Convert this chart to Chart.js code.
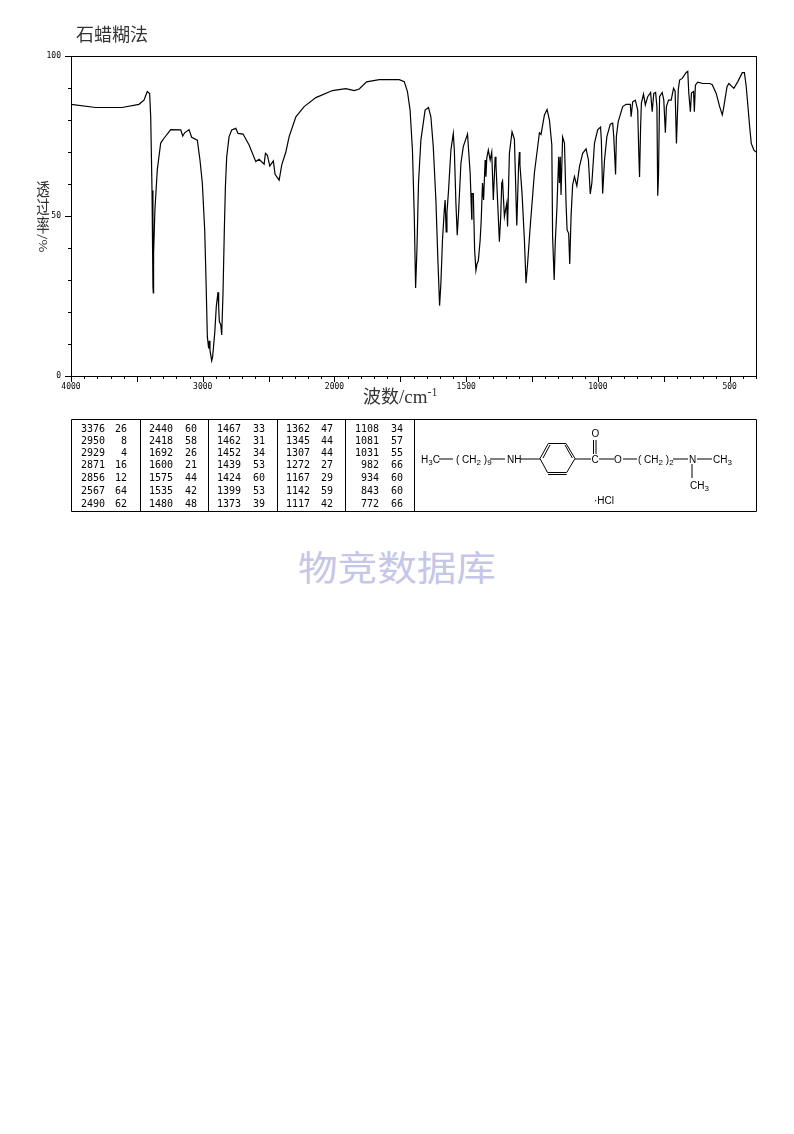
<!DOCTYPE html>
<html>
<head>
<meta charset="utf-8">
<script src="https://cdn.jsdelivr.net/npm/chart.js@4"></script>
<style>
  body { margin: 0; background: #fff; }
  #page { position: relative; width: 794px; height: 1134px; overflow: hidden; }
  #spectrum { position: absolute; left: 0; top: 0; }
  #tableSvg { position: absolute; left: 0; top: 0; }
  .cjk { position: absolute; font-family: "Noto Sans CJK SC", sans-serif; color: #333; white-space: nowrap; }
  #title { left: 76px; top: 20px; font-size: 18px; line-height: 26px; }
  #yTitle { left: 32px; top: 180px; font-size: 18px; line-height: 22px; writing-mode: vertical-rl; transform: scaleX(0.75); }
  #yTitle span { font-size: 14px; }
  #xTitle { left: 363px; top: 383px; font-size: 18px; line-height: 24px; }
  #xTitle .latin { font-family: "Liberation Serif", serif; font-size: 19px; }
  #xTitle sup { font-family: "Liberation Serif", serif; font-size: 12px; line-height: 0; }
  #watermark { left: 298px; top: 539.5px; font-size: 39.6px; line-height: 52px; color: #c6c6e8; transform: scaleY(0.9); }
</style>
</head>
<body>
<div id="page">
  <canvas id="spectrum" width="794" height="410"></canvas>
  <div id="title" class="cjk">石蜡糊法</div>
  <div id="yTitle" class="cjk">透过率<span>/%</span></div>
  <div id="xTitle" class="cjk">波数<span class="latin">/cm</span><sup>-1</sup></div>
  <svg id="tableSvg" width="794" height="530"></svg>
  <div id="watermark" class="cjk">物竞数据库</div>
</div>
<script>
// spectrum
const wavenumbers = [
  4000, 3813, 3613, 3484, 3446, 3421, 3403, 3395, 3385, 3378, 3375, 3373, 3363, 3345, 3319, 3294,
  3243, 3167, 3152, 3137, 3104, 3084, 3041, 3021, 3003, 2985, 2975, 2965, 2955, 2950, 2945, 2932,
  2925, 2909, 2897, 2884, 2879, 2874, 2863, 2856, 2846, 2836, 2828, 2818, 2800, 2780, 2749, 2732,
  2694, 2648, 2597, 2572, 2534, 2524, 2509, 2491, 2464, 2451, 2420, 2400, 2369, 2344, 2293, 2230,
  2141, 2015, 1957, 1925, 1906, 1878, 1830, 1754, 1735, 1723, 1713, 1704, 1697, 1692, 1687, 1681,
  1672, 1656, 1643, 1634, 1625, 1615, 1607, 1601, 1596, 1590, 1583, 1580, 1576, 1573, 1567, 1558,
  1549, 1545, 1539, 1534, 1529, 1520, 1511, 1495, 1485, 1479, 1478, 1473, 1468, 1463, 1459, 1454,
  1447, 1443, 1438, 1434, 1428, 1425, 1422, 1416, 1409, 1403, 1397, 1390, 1387, 1381, 1374, 1369,
  1365, 1362, 1355, 1346, 1343, 1336, 1326, 1317, 1308, 1301, 1298, 1296, 1288, 1279, 1273, 1267,
  1257, 1241, 1222, 1216, 1203, 1193, 1184, 1175, 1172, 1166, 1162, 1156, 1149, 1146, 1143, 1140,
  1134, 1127, 1121, 1117, 1111, 1107, 1102, 1096, 1089, 1080, 1070, 1058, 1045, 1036, 1029, 1023,
  1013, 1001, 990, 987, 982, 975, 966, 953, 944, 940, 933, 930, 923, 906, 893, 877,
  874, 868, 858, 849, 845, 842, 838, 835, 827, 820, 811, 800, 794, 788, 781, 776,
  773, 770, 766, 756, 750, 744, 740, 732, 722, 713, 707, 702, 695, 690, 680, 665,
  659, 655, 649, 645, 637, 634, 630, 621, 602, 576, 566, 551, 538, 528, 523, 510,
  503, 484, 469, 452, 444, 437, 424, 418, 408, 400
];
const transmittance = [
  84.9, 83.9, 83.9, 84.9, 86.2, 88.9, 88.3, 81, 58, 27.9, 26, 38.4, 51.9, 64.4, 72.8, 74.3,
  77, 76.9, 75, 76, 77, 74.6, 73.7, 67.5, 60.3, 45.6, 30, 12.3, 8.6, 11, 8, 4.8,
  6, 13.4, 21.7, 26.2, 21.7, 17, 16, 12.8, 26, 45.6, 59, 68.5, 74.8, 76.9, 77.4, 75.8,
  75.6, 72.2, 67, 67.7, 66.2, 69.6, 69, 65.6, 67.2, 63, 61.2, 66, 70, 74.8, 81, 84.2,
  87, 89.2, 89.8, 89.2, 89.7, 91.9, 92.6, 92.6, 92, 88.9, 83.1, 70.6, 49.8, 27.5, 39.4, 60.3,
  73.7, 83.1, 83.9, 81, 71.7, 55, 35.3, 22, 29, 42.5, 52, 55, 45, 51, 58, 70.6,
  75.8, 70.6, 54, 44, 51, 66.5, 71.7, 75.6, 63.5, 49, 57, 57, 39.4, 33, 35, 36,
  42.5, 48.7, 60.3, 55, 67.5, 62.3, 68, 70.6, 67.5, 70, 55, 68.5, 66, 55, 42, 49.8,
  60.3, 61, 49.8, 54, 46.7, 69.6, 76.3, 74, 47, 66, 70, 66, 57, 42.5, 29, 35,
  46.7, 63.5, 76, 75.5, 81.6, 83.3, 80, 72.2, 43.5, 30, 41.6, 51.9, 68.5, 60.3, 68.5, 56.6,
  74.7, 72.8, 54, 45.6, 44.6, 35, 49.8, 59.7, 62.3, 59.4, 65.4, 69.6, 71, 67.5, 56.9, 60.3,
  72.8, 76.9, 77.8, 73.7, 57, 67.5, 74.8, 78.7, 79, 75, 63, 74.8, 79.5, 84.2, 84.9, 84.9,
  81, 85.7, 86.2, 83.1, 70, 62.2, 77.9, 85.3, 88.1, 84.7, 87.3, 88.6, 82.6, 88.3, 88.6, 84,
  56.3, 62.8, 87.3, 88.6, 86.2, 76, 84.2, 86.2, 86.2, 89.9, 89, 72.7, 89.4, 92.5, 93, 94.9,
  95.2, 88.3, 82.6, 88.4, 88.9, 82.6, 90.9, 91.8, 91.4, 91.4, 91, 88.3, 84.2, 81.6, 83.7, 90.4,
  91.4, 89.9, 92, 94.8, 94.8, 90.4, 77.9, 72.7, 70.6, 70
];

// peak table under the plot
const peakWave = [
  3376, 2950, 2929, 2871, 2856, 2567, 2490,
  2440, 2418, 1692, 1600, 1575, 1535, 1480,
  1467, 1462, 1452, 1439, 1424, 1399, 1373,
  1362, 1345, 1307, 1272, 1167, 1142, 1117,
  1108, 1081, 1031, 982, 934, 843, 772
];
const peakTrans = [
  26, 8, 4, 16, 12, 64, 62,
  60, 58, 26, 21, 44, 42, 48,
  33, 31, 34, 53, 60, 53, 39,
  47, 44, 44, 27, 29, 59, 42,
  34, 57, 55, 66, 60, 60, 66
];

const xTickLabels = [4000, 3000, 2000, 1500, 1000, 500];
const yTickLabels = [0, 50, 100];

// the axis runs at half scale above 2000 cm-1
function toAxis(w) { return w > 2000 ? 2000 + (w - 2000) / 2 : w; }
function fromAxis(a) { return a > 2000 ? 2000 + (a - 2000) * 2 : a; }

const frameAndTicks = {
  id: "frameAndTicks",
  afterDraw(chart) {
    const ctx = chart.ctx, area = chart.chartArea;
    const xs = chart.scales.x, ys = chart.scales.y;
    ctx.save();
    ctx.strokeStyle = "#000";
    ctx.lineWidth = 1;
    ctx.strokeRect(Math.round(area.left) + 0.5, Math.round(area.top) + 0.5,
      Math.round(area.width), Math.round(area.height));
    ctx.beginPath();
    xs.ticks.forEach((t) => {
      const px = Math.round(xs.getPixelForValue(t.value)) + 0.5;
      const len = t.value % 250 === 0 ? 6 : 3;
      ctx.moveTo(px, area.bottom);
      ctx.lineTo(px, area.bottom + len);
    });
    ys.ticks.forEach((t) => {
      const py = Math.round(ys.getPixelForValue(t.value)) + 0.5;
      const len = t.value % 50 === 0 ? 6 : 3;
      ctx.moveTo(area.left, py);
      ctx.lineTo(area.left - len, py);
    });
    ctx.stroke();
    ctx.restore();
  },
};

const tickFont = { family: "DejaVu Sans Mono", size: 8 };

new Chart(document.getElementById("spectrum"), {
  type: "line",
  data: {
    datasets: [
      {
        data: wavenumbers.map((w, i) => ({ x: toAxis(w), y: transmittance[i] })),
        borderColor: "#000",
        borderWidth: 1.2,
        pointRadius: 0,
        tension: 0,
        fill: false,
      },
    ],
  },
  options: {
    responsive: false,
    animation: false,
    layout: { padding: { top: 56, right: 38, left: 0, bottom: 0 } },
    plugins: { legend: { display: false }, tooltip: { enabled: false } },
    scales: {
      x: {
        type: "linear",
        reverse: true,
        min: 400,
        max: 3000,
        grid: { display: false, drawTicks: false },
        border: { display: false },
        afterFit(scale) { scale.height = 34; },
        ticks: {
          stepSize: 50,
          autoSkip: false,
          maxRotation: 0,
          padding: 6,
          color: "#000",
          font: tickFont,
          callback: (v) => (xTickLabels.includes(fromAxis(v)) ? String(fromAxis(v)) : ""),
        },
      },
      y: {
        min: 0,
        max: 100,
        grid: { display: false, drawTicks: false },
        border: { display: false },
        afterFit(scale) { scale.width = 71; },
        ticks: {
          stepSize: 10,
          autoSkip: false,
          padding: 10,
          color: "#000",
          font: tickFont,
          callback: (v) => (yTickLabels.includes(v) ? String(v) : ""),
        },
      },
    },
  },
  plugins: [frameAndTicks],
});

// peak table and structure
const svg = document.getElementById("tableSvg");
function line(x1, y1, x2, y2) {
  const el = document.createElementNS("http://www.w3.org/2000/svg", "line");
  el.setAttribute("x1", x1); el.setAttribute("y1", y1);
  el.setAttribute("x2", x2); el.setAttribute("y2", y2);
  el.setAttribute("stroke", "#000"); el.setAttribute("stroke-width", 1);
  svg.appendChild(el);
}
function text(str, x, y, anchor, size, family) {
  const el = document.createElementNS("http://www.w3.org/2000/svg", "text");
  el.setAttribute("x", x); el.setAttribute("y", y);
  el.setAttribute("text-anchor", anchor || "start");
  el.setAttribute("font-size", size || 10);
  el.setAttribute("font-family", family || "DejaVu Sans Mono");
  el.setAttribute("fill", "#000");
  el.textContent = str;
  svg.appendChild(el);
  return el;
}

const rowY = [431.5, 443.5, 455.5, 467.5, 480.5, 493.5, 506.5];
const waveRight = [105, 173, 241, 310, 379];
const transRight = [127, 197, 265, 333, 403];
peakWave.forEach((w, i) => {
  const col = Math.floor(i / 7), row = i % 7;
  text(String(w), waveRight[col], rowY[row], "end");
  text(String(peakTrans[i]), transRight[col], rowY[row], "end");
});

line(71.5, 419.5, 756.5, 419.5);
line(71.5, 511.5, 756.5, 511.5);
line(71.5, 419.5, 71.5, 511.5);
line(756.5, 419.5, 756.5, 511.5);
[140.5, 208.5, 277.5, 345.5, 414.5].forEach((x) => line(x, 419.5, x, 511.5));

const chem = "Liberation Sans";
function formula(parts, x, y) {
  const el = text("", x, y, "start", 10, chem);
  parts.forEach(([s, sub]) => {
    const span = document.createElementNS("http://www.w3.org/2000/svg", "tspan");
    span.textContent = s;
    if (sub) { span.setAttribute("dy", 2); span.setAttribute("font-size", 8); }
    else { span.setAttribute("dy", el.dataset.low ? -2 : 0); }
    el.dataset.low = sub ? "1" : "";
    el.appendChild(span);
  });
}
formula([["H"], ["3", 1], ["C"]], 421, 462.5);
formula([["( CH"], ["2", 1], [" )"], ["9", 1]], 456, 462.5);
text("NH", 507, 462.5, "start", 10, chem);
text("C", 595, 462.5, "middle", 10, chem);
text("O", 595.5, 437, "middle", 10, chem);
text("O", 618, 462.5, "middle", 10, chem);
formula([["( CH"], ["2", 1], [" )"], ["2", 1]], 638, 462.5);
text("N", 692.5, 462.5, "middle", 10, chem);
formula([["CH"], ["3", 1]], 713, 462.5);
formula([["CH"], ["3", 1]], 690, 489);
text("·HCl", 594, 503.5, "start", 10, chem);

line(439, 459, 453, 459);
line(490, 459, 505, 459);
line(520, 459, 540, 459);
// ring
line(540, 458.5, 548.3, 443.5);
line(548.3, 443.5, 566, 443.5);
line(566, 443.5, 575, 458.5);
line(575, 458.5, 566.7, 472.5);
line(566.7, 472.5, 547.5, 472.5);
line(547.5, 472.5, 540, 458.5);
line(543, 458, 550, 445);
line(565, 445, 572.3, 458);
line(548, 474.5, 566.7, 474.5);
line(575, 459, 591, 459);
line(593.5, 440, 593.5, 454);
line(596, 440, 596, 454);
line(599, 459, 614, 459);
line(623, 459, 637, 459);
line(673, 459, 688, 459);
line(697, 459, 712, 459);
line(692, 464, 692, 478);
</script>
</body>
</html>
